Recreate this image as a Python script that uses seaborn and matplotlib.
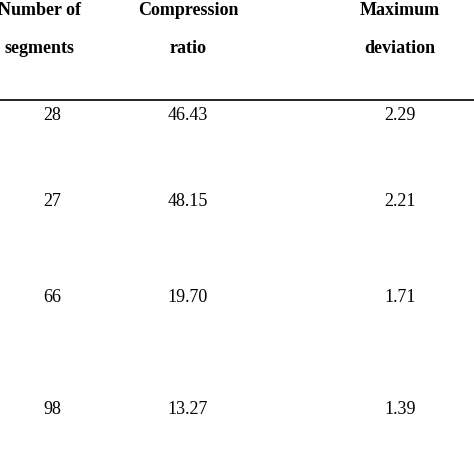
import matplotlib
matplotlib.use("Agg")
import matplotlib.pyplot as plt
import seaborn as sns

sns.set_theme(style="white")
plt.rcParams['font.family'] = ['Liberation Serif', 'DejaVu Serif']
plt.rcParams['text.color'] = 'black'

header1 = ["Number of", "Compression", "Maximum"]
header2 = ["segments", "ratio", "deviation"]
segments = ["28", "27", "66", "98"]
ratios = ["46.43", "48.15", "19.70", "13.27"]
deviations = ["2.29", "2.21", "1.71", "1.39"]

head_x = [40, 188, 400]
col_x = [52, 188, 400]
row_y = [115, 201, 298, 410]

fig = plt.figure(figsize=(4.74, 4.74), dpi=100)
ax = fig.add_axes([0, 0, 1, 1])
ax.set_xlim(0, 474)
ax.set_ylim(474, 0)
ax.axis("off")

for x, h1, h2 in zip(head_x, header1, header2):
    ax.text(x, 10, h1, ha="center", va="center", fontsize=13, fontweight="bold", color="black")
    ax.text(x, 48, h2, ha="center", va="center", fontsize=13, fontweight="bold", color="black")
ax.plot([0, 474], [100, 100], color="black", lw=1.2)

for i, y in enumerate(row_y):
    for x, col in zip(col_x, [segments, ratios, deviations]):
        ax.text(x, y, col[i], ha="center", va="center", fontsize=13, color="black")

fig.savefig("out.png", dpi=100)
